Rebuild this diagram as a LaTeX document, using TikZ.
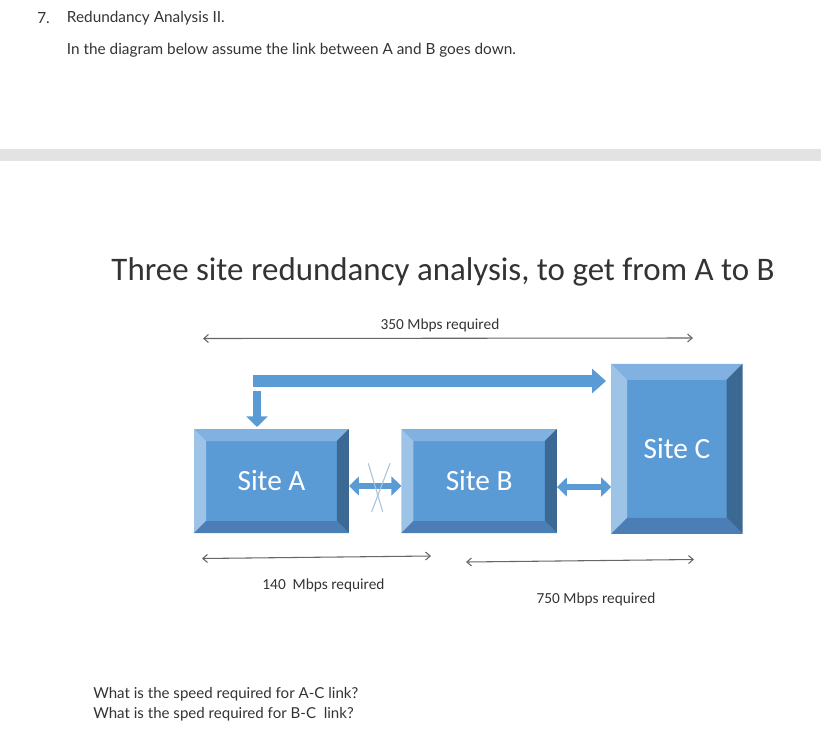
\documentclass[tikz,border=0pt]{standalone}
\usepackage{fontspec}
\usepackage{xcolor}
\setmainfont{Lato}
\newfontfamily\carlito{Carlito}
\usetikzlibrary{arrows.meta,calc}

\definecolor{siteface}{HTML}{5B9BD5}
\definecolor{bevtop}{HTML}{80B1E0}
\definecolor{bevleft}{HTML}{9DC3E6}
\definecolor{bevright}{HTML}{3B6994}
\definecolor{bevbottom}{HTML}{4A7EB5}
\definecolor{crossline}{HTML}{A9C1D9}
\definecolor{labeltext}{HTML}{333333}

\tikzset{
  sitebox/.style={fill=siteface, inner sep=0pt, text=white, font=\carlito\fontsize{22}{24}\selectfont},
  fatarrow/.style={draw=siteface, line width=#1},
  linkarrow/.style={draw=siteface, line width=4pt, {Triangle[length=7.5pt,width=14pt]}-{Triangle[length=7.5pt,width=14pt]}},
  spanarrow/.style={draw=gray!80!black, line width=0.8pt, {Straight Barb[length=3.5pt,width=6pt]}-{Straight Barb[length=3.5pt,width=6pt]}},
  rate/.style={text=labeltext, font=\carlito\fontsize{11.5}{13}\selectfont}
}

\begin{document}
\begin{tikzpicture}[x=0.75pt,y=0.75pt,yscale=-1,xscale=1]
\useasboundingbox (0,0) rectangle (821,736);

% question header
\node [anchor=west, inner sep=0pt, text=labeltext, font=\fontsize{11.5}{13}\selectfont] (num) at (37,18.3) {7.};
\node [anchor=west, inner sep=0pt, text=labeltext, font=\fontsize{11.5}{13}\selectfont] (head) at (66.7,18.3) {Redundancy Analysis II.};
\node [anchor=west, inner sep=0pt, text=labeltext, font=\fontsize{11.5}{13}\selectfont] (intro) at (66.7,50) {In the diagram below assume the link between A and B goes down.};

\fill [gray!22] (0,149) rectangle (821,161);

\node [font=\carlito\fontsize{24.7}{28}\selectfont, text=labeltext] (title) at (443,272) {Three site redundancy analysis, to get from A to B};

% sites
\node [sitebox, minimum width=115.8pt, minimum height=77.6pt] (siteA) at (271.5,481) {Site A};
\node [sitebox, minimum width=116.2pt, minimum height=77.6pt] (siteB) at (479.2,481) {Site B};
\node [sitebox, minimum width=98.1pt, minimum height=127.1pt] (siteC) at (676.9,448.8) {Site C};

\foreach \n/\b in {siteA/12,siteB/12,siteC/16} {
  \fill [bevtop] (\n.north west) -- (\n.north east) -- ($(\n.north east)+(-\b,\b)$) -- ($(\n.north west)+(\b,\b)$) -- cycle;
  \fill [bevleft] (\n.north west) -- ($(\n.north west)+(\b,\b)$) -- ($(\n.south west)+(\b,-\b)$) -- (\n.south west) -- cycle;
  \fill [bevright] (\n.north east) -- (\n.south east) -- ($(\n.south east)+(-\b,-\b)$) -- ($(\n.north east)+(-\b,\b)$) -- cycle;
  \fill [bevbottom] (\n.south west) -- (\n.south east) -- ($(\n.south east)+(-\b,-\b)$) -- ($(\n.south west)+(\b,-\b)$) -- cycle;
}

% backup path A -> C
\coordinate (feed) at (253,381);
\coordinate (feedtip) at (606,381);
\coordinate (drop) at (257,391);
\draw [fatarrow=9pt, -{Triangle[length=10.5pt,width=18pt]}] (feed) -- (feedtip);
\draw [fatarrow=6.2pt, -{Triangle[length=8pt,width=15.75pt]}] (drop) -- ($(drop |- siteA.north)+(0,-2)$);

% links
\coordinate (ab) at ($(siteA.east)+(0,5)$);
\coordinate (bc) at ($(siteB.east)+(0,6)$);
\draw [linkarrow] (ab) -- (ab -| siteB.west);
\draw [linkarrow] (bc) -- (bc -| siteC.west);

% broken link
\draw [crossline, line width=0.8pt] (368.3,463.3) -- (382.7,511.7);
\draw [crossline, line width=0.8pt] (390,463.3) -- (371.7,511.7);

% spans
\coordinate (topL) at (203,338.5);
\coordinate (topR) at (693,338);
\coordinate (abL) at (202,558.5);
\coordinate (abR) at (431,556);
\coordinate (bcL) at (466,562);
\coordinate (bcR) at (694,559.5);
\draw [spanarrow] (topL) -- (topR);
\draw [spanarrow] (abL) -- (abR);
\draw [spanarrow] (bcL) -- (bcR);

\node [rate] (rateAC) at (440,325) {350 Mbps required};
\node [rate] (rateAB) at (323.5,585.7) {140\ \ Mbps required};
\node [rate] (rateBC) at (596,599.3) {750 Mbps required};

% questions
\node [anchor=west, inner sep=0pt, text=labeltext, font=\fontsize{11.3}{13}\selectfont] (q1) at (93,694) {What is the speed required for A-C link?};
\node [anchor=west, inner sep=0pt, text=labeltext, font=\fontsize{11.3}{13}\selectfont] (q2) at (93,714) {What is the sped required for B-C\ \ link?};

\end{tikzpicture}
\end{document}
